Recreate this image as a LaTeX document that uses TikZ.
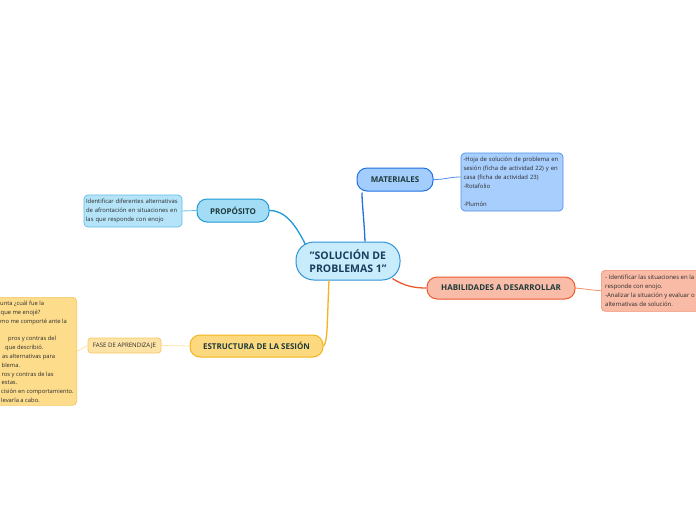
\documentclass[tikz,border=0pt]{standalone}
\usepackage{fontspec}
\setmainfont{Open Sans}
\hyphenpenalty=10000
\definecolor{cenfill}{HTML}{C9ECFC}
\definecolor{cenbord}{HTML}{2E94D6}
\definecolor{centext}{HTML}{163D5C}
\definecolor{habfill}{HTML}{F8BCA8}
\definecolor{habbord}{HTML}{EE5A2C}
\definecolor{hablfill}{HTML}{F9BBA6}
\definecolor{hablbord}{HTML}{F0906E}
\definecolor{matfill}{HTML}{A3CDFD}
\definecolor{matbord}{HTML}{2170E0}
\definecolor{matlfill}{HTML}{A8CEFD}
\definecolor{matlbord}{HTML}{4D8EE8}
\definecolor{propfill}{HTML}{A3DCF5}
\definecolor{propbord}{HTML}{1E9AD6}
\definecolor{proplfill}{HTML}{B5E4F9}
\definecolor{proplbord}{HTML}{60BDE8}
\definecolor{estfill}{HTML}{FCD97F}
\definecolor{estbord}{HTML}{F3B51B}
\definecolor{fasefill}{HTML}{FDE3A6}
\definecolor{fasebord}{HTML}{F6C76A}
\definecolor{faselfill}{HTML}{FDDC8C}
\definecolor{faselbord}{HTML}{F5C760}
\definecolor{darktext}{HTML}{1E3A3A}
\definecolor{leaftext}{HTML}{2A2A2A}
\tikzset{
  mainbox/.style={draw, line width=1pt, rounded corners=10pt, inner sep=0pt, align=center,
     font=\fontsize{8}{9.5}\selectfont\bfseries, text=darktext},
  leafbox/.style={draw, line width=0.7pt, rounded corners=4pt, inner xsep=2pt, inner ysep=3pt, align=left,
     font=\fontsize{5.9}{9}\selectfont, text=leaftext},
  leaftxt/.style={inner sep=0pt, align=left, font=\fontsize{6}{8.9}\selectfont, text=leaftext},
  mainline/.style={line width=1.3pt},
  leafline/.style={line width=0.8pt}
}
\begin{document}
\begin{tikzpicture}[x=1pt,y=-1pt]
\useasboundingbox[fill=white] (0,0) rectangle (696,520);

% central
\node[draw=cenbord, fill=cenfill, line width=1pt, rounded corners=18pt, minimum width=104pt,
  minimum height=38pt, inner sep=0pt, align=center, text=centext,
  font=\fontsize{10.5}{13.5}\selectfont\bfseries] (central) at (348,261) {\char34SOLUCIÓN DE\\PROBLEMAS 1\char34};

% main topics
\node[mainbox, draw=habbord, fill=habfill, minimum width=148pt, minimum height=22pt] (hab) at (501,288) {HABILIDADES A DESARROLLAR};
\node[mainbox, draw=matbord, fill=matfill, minimum width=76pt, minimum height=23pt] (mat) at (395,179.5) {MATERIALES};
\node[mainbox, draw=propbord, fill=propfill, minimum width=72pt, minimum height=23pt] (prop) at (233,210.5) {PROPÓSITO};
\node[mainbox, draw=estbord, fill=estfill, minimum width=133pt, minimum height=22pt] (estr) at (256.5,346) {ESTRUCTURA DE LA SESIÓN};
\node[draw=fasebord, fill=fasefill, line width=0.7pt, rounded corners=3pt, minimum width=73pt,
  minimum height=15pt, inner sep=0pt, text=leaftext, font=\fontsize{6.1}{7}\selectfont] (fase) at (124.5,345.5) {FASE DE APRENDIZAJE};

% leaves
\node[leafbox, draw=proplbord, fill=proplfill, text width=94pt, minimum height=32pt] (propleaf) at (133,211)
 {Identificar diferentes alternativas\\de afrontación en situaciones en\\las que responde con enojo};
\node[leafbox, draw=matlbord, fill=matlfill, text width=97pt, minimum height=58pt, inner xsep=2.5pt] (matleaf) at (512,182)
 {-Hoja de solución de problema en\\sesión (ficha de actividad 22) y en\\casa (ficha de actividad 23)\\-Rotafolio\\[9pt]-Plumón};
\node[draw=hablbord, fill=hablfill, line width=0.7pt, rounded corners=4pt, minimum width=125pt,
  minimum height=41pt, anchor=north west, inner sep=0pt] (hableaf) at (601,270) {};
\node[leaftxt, anchor=west] (habtext) at (605,290.5)
 {- Identificar las situaciones en la\\responde con enojo.\\-Analizar la situación y evaluar o\\alternativas de solución.};
\node[draw=faselbord, fill=faselfill, line width=0.7pt, rounded corners=4pt, minimum width=117pt,
  minimum height=108pt, anchor=north east, inner sep=0pt] (faseleaf) at (77,297) {};
\node[leaftxt, anchor=west, font=\fontsize{5.8}{8.8}\selectfont] (fasetext) at (0,352)
 {unta ¿cuál fue la\\
  \hspace*{0.5pt}que me enojé?\\
  mo me comporté ante la\\
  \mbox{}\\
  \hspace*{8pt}pros y contras del\\
  \hspace*{5pt}que describió.\\
  \hspace*{2pt}as alternativas para\\
  \hspace*{1.5pt}blema.\\
  \hspace*{1.5pt}ros y contras de las\\
  \hspace*{1.5pt}estas.\\
  \hspace*{1pt}cisión en comportamiento.\\
  \hspace*{1pt}levarla a cabo.};

% connectors
\draw[mainline, draw=propbord] ([xshift=10pt,yshift=-3pt]central.north west) .. controls (296,226) and (286,210.5) .. (prop.east);
\draw[mainline, draw=matbord] ([xshift=17pt]central.north) .. controls (364,218) and (362,204) .. ([xshift=-33pt,yshift=-1pt]mat.south);
\draw[mainline, draw=habbord] ([xshift=-8pt,yshift=2pt]central.south east) .. controls (404,286) and (414,288) .. (hab.west);
\draw[mainline, draw=estbord] ([xshift=-19pt]central.south) .. controls (327,320) and (328,342) .. (estr.east);
\draw[leafline, draw=matlbord] (mat.east) .. controls (446,179.5) and (449,177) .. ([yshift=5pt]matleaf.west);
\draw[leafline, draw=hablbord] (hab.east) -- (hableaf.west);
\draw[leafline, draw=proplbord] (prop.west) -- (propleaf.east);
\draw[leafline, draw=fasefill] (estr.west) -- (fase.east);
\draw[leafline, draw=fasefill] (fase.west) -- (faseleaf.east);
\end{tikzpicture}
\end{document}
